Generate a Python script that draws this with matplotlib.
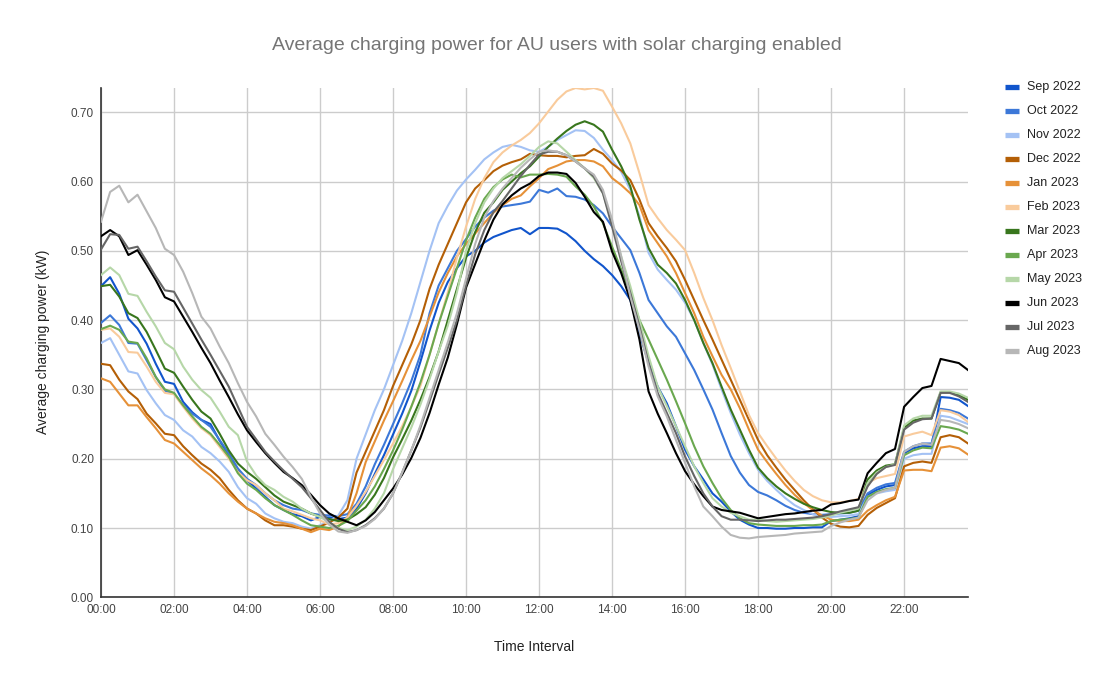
import numpy as np
import matplotlib
matplotlib.use("Agg")
import matplotlib.pyplot as plt
from matplotlib.lines import Line2D

plt.rcParams['font.family'] = ['Liberation Sans', 'DejaVu Sans']

# 15-minute intervals, 00:00 .. 23:45
times = np.arange(96) / 4.0
tick_hours = list(range(0, 24, 2))
tick_labels = [f"{h:02d}:00" for h in tick_hours]

sep_2022 = [0.449, 0.462, 0.438, 0.402, 0.388, 0.366, 0.337, 0.311, 0.308, 0.282, 0.267, 0.256, 0.250, 0.226, 0.205, 0.183, 0.169, 0.157, 0.145, 0.133, 0.126, 0.120, 0.117, 0.111, 0.116,
            0.115, 0.113, 0.115, 0.128, 0.150, 0.178, 0.205, 0.235, 0.265, 0.298, 0.340, 0.385, 0.425, 0.455, 0.475, 0.492, 0.500, 0.512, 0.520, 0.525, 0.530, 0.533, 0.524, 0.533,
            0.533, 0.532, 0.525, 0.514, 0.500, 0.488, 0.478, 0.465, 0.449, 0.429, 0.381, 0.338, 0.304, 0.280, 0.247, 0.213, 0.189, 0.170, 0.150, 0.138, 0.124, 0.112, 0.105, 0.100,
            0.100, 0.099, 0.099, 0.100, 0.100, 0.101, 0.101, 0.110, 0.112, 0.114, 0.117, 0.148, 0.155, 0.160, 0.162, 0.208, 0.215, 0.218, 0.218, 0.289, 0.288, 0.285, 0.276]
oct_2022 = [0.396, 0.407, 0.393, 0.367, 0.366, 0.342, 0.318, 0.298, 0.294, 0.277, 0.265, 0.256, 0.246, 0.227, 0.208, 0.186, 0.171, 0.162, 0.150, 0.140, 0.133, 0.128, 0.126, 0.121, 0.119,
            0.118, 0.117, 0.120, 0.135, 0.160, 0.192, 0.220, 0.250, 0.280, 0.312, 0.350, 0.410, 0.450, 0.475, 0.500, 0.517, 0.535, 0.548, 0.558, 0.564, 0.566, 0.568, 0.571, 0.588,
            0.584, 0.590, 0.579, 0.578, 0.574, 0.566, 0.554, 0.535, 0.518, 0.501, 0.468, 0.429, 0.410, 0.391, 0.376, 0.352, 0.328, 0.300, 0.271, 0.237, 0.204, 0.180, 0.162, 0.152,
            0.147, 0.140, 0.132, 0.126, 0.122, 0.120, 0.119, 0.120, 0.121, 0.122, 0.125, 0.150, 0.158, 0.163, 0.165, 0.210, 0.218, 0.222, 0.222, 0.272, 0.270, 0.266, 0.258]
nov_2022 = [0.367, 0.374, 0.350, 0.326, 0.323, 0.299, 0.280, 0.263, 0.256, 0.241, 0.232, 0.217, 0.208, 0.196, 0.181, 0.159, 0.143, 0.135, 0.121, 0.114, 0.109, 0.107, 0.102, 0.099, 0.104,
            0.110, 0.118, 0.140, 0.200, 0.235, 0.270, 0.300, 0.335, 0.370, 0.410, 0.455, 0.500, 0.540, 0.565, 0.587, 0.603, 0.617, 0.632, 0.642, 0.650, 0.653, 0.650, 0.645, 0.643,
            0.650, 0.660, 0.667, 0.674, 0.673, 0.663, 0.646, 0.631, 0.614, 0.588, 0.550, 0.497, 0.473, 0.458, 0.444, 0.425, 0.400, 0.367, 0.336, 0.300, 0.266, 0.235, 0.208, 0.184,
            0.168, 0.155, 0.143, 0.133, 0.126, 0.120, 0.117, 0.116, 0.117, 0.118, 0.120, 0.145, 0.150, 0.153, 0.155, 0.200, 0.205, 0.207, 0.207, 0.262, 0.260, 0.255, 0.250]
dec_2022 = [0.337, 0.335, 0.314, 0.297, 0.286, 0.265, 0.251, 0.236, 0.234, 0.218, 0.205, 0.193, 0.184, 0.172, 0.155, 0.140, 0.128, 0.121, 0.111, 0.104, 0.104, 0.102, 0.099, 0.097, 0.102,
            0.108, 0.115, 0.128, 0.180, 0.210, 0.240, 0.270, 0.305, 0.335, 0.365, 0.400, 0.445, 0.480, 0.510, 0.540, 0.570, 0.590, 0.602, 0.615, 0.623, 0.628, 0.632, 0.640, 0.638,
            0.637, 0.637, 0.635, 0.637, 0.638, 0.647, 0.640, 0.626, 0.616, 0.602, 0.574, 0.540, 0.521, 0.504, 0.485, 0.458, 0.429, 0.400, 0.372, 0.343, 0.314, 0.285, 0.256, 0.227,
            0.205, 0.187, 0.170, 0.155, 0.140, 0.127, 0.115, 0.106, 0.102, 0.101, 0.103, 0.119, 0.129, 0.136, 0.143, 0.189, 0.194, 0.196, 0.194, 0.231, 0.234, 0.231, 0.222]
jan_2023 = [0.316, 0.311, 0.294, 0.277, 0.277, 0.260, 0.244, 0.227, 0.222, 0.210, 0.198, 0.186, 0.176, 0.164, 0.150, 0.138, 0.128, 0.121, 0.114, 0.109, 0.107, 0.104, 0.099, 0.094, 0.099,
            0.097, 0.102, 0.115, 0.150, 0.195, 0.225, 0.255, 0.283, 0.312, 0.342, 0.370, 0.405, 0.440, 0.468, 0.492, 0.510, 0.525, 0.540, 0.555, 0.566, 0.575, 0.580, 0.593, 0.605,
            0.618, 0.623, 0.629, 0.631, 0.631, 0.629, 0.622, 0.605, 0.595, 0.583, 0.566, 0.530, 0.511, 0.492, 0.468, 0.439, 0.410, 0.376, 0.348, 0.321, 0.300, 0.273, 0.242, 0.213,
            0.195, 0.178, 0.162, 0.148, 0.136, 0.126, 0.118, 0.112, 0.110, 0.110, 0.112, 0.125, 0.133, 0.140, 0.145, 0.183, 0.184, 0.184, 0.182, 0.216, 0.218, 0.215, 0.206]
feb_2023 = [0.386, 0.388, 0.376, 0.354, 0.353, 0.333, 0.311, 0.295, 0.293, 0.275, 0.258, 0.244, 0.234, 0.217, 0.200, 0.181, 0.169, 0.162, 0.150, 0.140, 0.128, 0.124, 0.119, 0.114, 0.111,
            0.105, 0.107, 0.115, 0.132, 0.152, 0.175, 0.198, 0.222, 0.247, 0.275, 0.305, 0.350, 0.395, 0.440, 0.490, 0.535, 0.575, 0.605, 0.628, 0.642, 0.652, 0.660, 0.670, 0.684,
            0.701, 0.718, 0.730, 0.735, 0.733, 0.735, 0.731, 0.708, 0.684, 0.655, 0.612, 0.566, 0.547, 0.530, 0.516, 0.501, 0.468, 0.432, 0.400, 0.364, 0.331, 0.297, 0.263, 0.237,
            0.218, 0.200, 0.183, 0.168, 0.155, 0.146, 0.140, 0.137, 0.137, 0.139, 0.142, 0.165, 0.172, 0.175, 0.178, 0.232, 0.236, 0.239, 0.234, 0.270, 0.268, 0.263, 0.253]
mar_2023 = [0.449, 0.451, 0.434, 0.410, 0.403, 0.383, 0.357, 0.330, 0.324, 0.304, 0.285, 0.268, 0.258, 0.236, 0.212, 0.193, 0.181, 0.171, 0.159, 0.147, 0.138, 0.133, 0.128, 0.121, 0.116,
            0.113, 0.110, 0.112, 0.120, 0.130, 0.148, 0.172, 0.202, 0.228, 0.255, 0.285, 0.318, 0.355, 0.400, 0.445, 0.490, 0.527, 0.555, 0.570, 0.588, 0.600, 0.612, 0.622, 0.636,
            0.650, 0.662, 0.673, 0.682, 0.687, 0.682, 0.672, 0.646, 0.622, 0.593, 0.545, 0.504, 0.480, 0.468, 0.453, 0.429, 0.400, 0.367, 0.338, 0.304, 0.271, 0.242, 0.213, 0.187,
            0.172, 0.160, 0.150, 0.142, 0.135, 0.130, 0.126, 0.123, 0.122, 0.122, 0.125, 0.170, 0.183, 0.190, 0.192, 0.245, 0.255, 0.258, 0.258, 0.296, 0.296, 0.292, 0.285]
apr_2023 = [0.387, 0.392, 0.386, 0.369, 0.367, 0.345, 0.318, 0.300, 0.295, 0.277, 0.261, 0.246, 0.236, 0.220, 0.203, 0.179, 0.164, 0.155, 0.143, 0.133, 0.126, 0.119, 0.111, 0.104, 0.102,
            0.100, 0.103, 0.110, 0.125, 0.140, 0.160, 0.185, 0.212, 0.242, 0.275, 0.310, 0.350, 0.395, 0.435, 0.475, 0.515, 0.548, 0.575, 0.592, 0.603, 0.610, 0.606, 0.610, 0.610,
            0.611, 0.610, 0.607, 0.593, 0.581, 0.564, 0.540, 0.506, 0.473, 0.439, 0.400, 0.372, 0.343, 0.314, 0.283, 0.251, 0.218, 0.189, 0.165, 0.143, 0.126, 0.114, 0.107, 0.105,
            0.104, 0.103, 0.103, 0.103, 0.104, 0.104, 0.105, 0.110, 0.112, 0.113, 0.115, 0.145, 0.152, 0.156, 0.158, 0.205, 0.212, 0.216, 0.215, 0.247, 0.245, 0.242, 0.236]
may_2023 = [0.465, 0.476, 0.465, 0.438, 0.435, 0.412, 0.391, 0.367, 0.358, 0.333, 0.314, 0.299, 0.288, 0.268, 0.246, 0.234, 0.196, 0.176, 0.162, 0.155, 0.145, 0.138, 0.128, 0.121, 0.116,
            0.108, 0.100, 0.097, 0.102, 0.112, 0.128, 0.150, 0.185, 0.215, 0.245, 0.278, 0.315, 0.355, 0.392, 0.440, 0.500, 0.540, 0.570, 0.590, 0.605, 0.615, 0.625, 0.637, 0.650,
            0.658, 0.655, 0.643, 0.631, 0.619, 0.605, 0.583, 0.540, 0.492, 0.449, 0.400, 0.348, 0.304, 0.276, 0.247, 0.218, 0.189, 0.165, 0.143, 0.131, 0.122, 0.117, 0.112, 0.112,
            0.110, 0.109, 0.110, 0.111, 0.112, 0.113, 0.115, 0.118, 0.122, 0.125, 0.128, 0.165, 0.180, 0.188, 0.192, 0.248, 0.258, 0.262, 0.262, 0.297, 0.297, 0.294, 0.288]
jun_2023 = [0.521, 0.530, 0.521, 0.494, 0.501, 0.480, 0.458, 0.433, 0.427, 0.405, 0.383, 0.360, 0.338, 0.313, 0.289, 0.264, 0.241, 0.224, 0.208, 0.194, 0.181, 0.172, 0.162, 0.148, 0.133,
            0.121, 0.114, 0.109, 0.104, 0.111, 0.123, 0.140, 0.157, 0.177, 0.201, 0.230, 0.266, 0.307, 0.346, 0.394, 0.447, 0.481, 0.515, 0.545, 0.567, 0.580, 0.590, 0.597, 0.608,
            0.613, 0.613, 0.611, 0.598, 0.578, 0.556, 0.542, 0.499, 0.468, 0.429, 0.372, 0.297, 0.265, 0.237, 0.208, 0.182, 0.163, 0.146, 0.131, 0.126, 0.124, 0.122, 0.118, 0.114,
            0.116, 0.118, 0.120, 0.121, 0.123, 0.125, 0.126, 0.134, 0.136, 0.139, 0.141, 0.179, 0.194, 0.208, 0.214, 0.275, 0.289, 0.302, 0.305, 0.344, 0.341, 0.338, 0.328]
jul_2023 = [0.502, 0.524, 0.523, 0.503, 0.506, 0.485, 0.463, 0.443, 0.441, 0.418, 0.395, 0.372, 0.350, 0.327, 0.304, 0.275, 0.246, 0.228, 0.210, 0.196, 0.183, 0.171, 0.159, 0.143, 0.126,
            0.109, 0.099, 0.094, 0.097, 0.104, 0.114, 0.128, 0.150, 0.180, 0.212, 0.245, 0.283, 0.322, 0.360, 0.400, 0.450, 0.495, 0.530, 0.556, 0.572, 0.590, 0.608, 0.624, 0.639,
            0.643, 0.643, 0.638, 0.629, 0.619, 0.607, 0.583, 0.535, 0.485, 0.439, 0.391, 0.338, 0.295, 0.266, 0.237, 0.203, 0.175, 0.150, 0.131, 0.117, 0.112, 0.112, 0.111, 0.110,
            0.111, 0.112, 0.112, 0.113, 0.114, 0.115, 0.117, 0.120, 0.124, 0.127, 0.130, 0.160, 0.178, 0.188, 0.191, 0.242, 0.252, 0.257, 0.258, 0.295, 0.295, 0.290, 0.282]
aug_2023 = [0.542, 0.585, 0.594, 0.570, 0.581, 0.557, 0.533, 0.503, 0.494, 0.470, 0.439, 0.405, 0.388, 0.362, 0.338, 0.309, 0.282, 0.261, 0.236, 0.220, 0.203, 0.188, 0.171, 0.145, 0.121,
            0.105, 0.095, 0.093, 0.097, 0.103, 0.113, 0.128, 0.150, 0.180, 0.212, 0.248, 0.288, 0.328, 0.368, 0.410, 0.460, 0.510, 0.548, 0.572, 0.590, 0.605, 0.620, 0.632, 0.643,
            0.645, 0.643, 0.638, 0.629, 0.619, 0.610, 0.588, 0.545, 0.492, 0.434, 0.386, 0.333, 0.290, 0.261, 0.227, 0.194, 0.160, 0.131, 0.117, 0.102, 0.090, 0.086, 0.085, 0.087,
            0.088, 0.089, 0.090, 0.092, 0.093, 0.094, 0.095, 0.103, 0.108, 0.112, 0.115, 0.140, 0.150, 0.155, 0.158, 0.210, 0.218, 0.222, 0.220, 0.256, 0.254, 0.250, 0.244]

series_names = ["Sep 2022", "Oct 2022", "Nov 2022", "Dec 2022", "Jan 2023", "Feb 2023",
                "Mar 2023", "Apr 2023", "May 2023", "Jun 2023", "Jul 2023", "Aug 2023"]
series_values = [sep_2022, oct_2022, nov_2022, dec_2022, jan_2023, feb_2023,
                 mar_2023, apr_2023, may_2023, jun_2023, jul_2023, aug_2023]
series_colors = ["#1155cc", "#3c78d8", "#a4c2f4", "#b45f06", "#e69138", "#f9cb9c",
                 "#38761d", "#6aa84f", "#b6d7a8", "#000000", "#666666", "#b7b7b7"]

W, H = 1114, 689
fig = plt.figure(figsize=(W / 100, H / 100), dpi=100)
x0, x1, ytop, ybot = 101, 968, 88, 597.3
ax = fig.add_axes([x0 / W, 1 - ybot / H, (x1 - x0) / W, (ybot - ytop) / H])

for name, vals, col in zip(series_names, series_values, series_colors):
    ax.plot(times, vals, color=col, lw=1.5, solid_joinstyle='round', label=name, zorder=3)

ax.set_xlim(0, 23.75)
ax.set_ylim(0, 0.735)
ax.set_xticks(tick_hours)
ax.set_xticklabels(tick_labels)
ax.set_yticks(np.arange(0, 0.71, 0.1))
ax.set_yticklabels([f"{v:.2f}" for v in np.arange(0, 0.71, 0.1)])
ax.grid(True, color='#cccccc', lw=1, zorder=0)
ax.set_axisbelow(True)
for s in ['top', 'right']:
    ax.spines[s].set_visible(False)
for s in ['left', 'bottom']:
    ax.spines[s].set_color('#333333')
    ax.spines[s].set_linewidth(1.2)
ax.tick_params(axis='both', length=0, labelsize=8.5, labelcolor='#444444')
ax.tick_params(axis='y', pad=5)
ax.tick_params(axis='x', pad=5)

fig.text(557 / W, 1 - 45 / H, "Average charging power for AU users with solar charging enabled",
         ha='center', va='center', fontsize=14, color='#757575')
fig.text(534 / W, 1 - 647 / H, "Time Interval", ha='center', va='center', fontsize=10, color='#222222')
fig.text(43 / W, 1 - 342 / H, "Average charging power (kW)", ha='center', va='center',
         rotation=90, fontsize=10, color='#222222')

# legend
for k, (name, col) in enumerate(zip(series_names, series_colors)):
    yy = 1 - (87 + 24 * k) / H
    fig.add_artist(Line2D([1005 / W, 1019 / W], [yy, yy], transform=fig.transFigure,
                          color=col, lw=3.8, solid_capstyle='butt'))
    fig.text(1027 / W, yy, name, ha='left', va='center', fontsize=9, color='#222222')

fig.savefig("out.png", dpi=100)
